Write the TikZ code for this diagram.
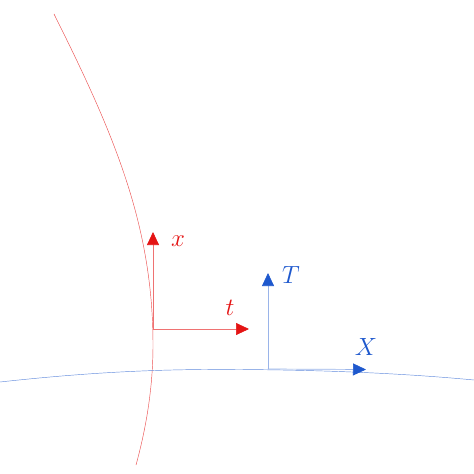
\documentclass[tikz,border=0pt]{standalone}
\usepackage{tikz}
\usetikzlibrary{arrows.meta,positioning}

\definecolor{framered}{RGB}{228,20,20}
\definecolor{frameblue}{RGB}{30,88,205}

\begin{document}
\begin{tikzpicture}[x=1pt,y=-1pt,
                    line cap=round]
    \tikzstyle{worldline}=[line width=0.45pt]
    \tikzstyle{axis}=[line width=0.7pt]
    \tikzstyle{lbl}=[inner sep=0pt,font=\fontsize{27}{30}\selectfont]

    \useasboundingbox (0,0) rectangle (474,474);

    % curves
    \draw[worldline,framered!75] (54,14) .. controls (114,134) and (153,225) .. (153,345)
                                        .. controls (153,385) and (147,425) .. (136,465);
    \draw[worldline,frameblue!70] (0,382) .. controls (100,371) and (170,369) .. (240,369.5)
                                         .. controls (320,370) and (400,373) .. (474,380);

    % red frame
    \coordinate (o1) at (153,329);
    \coordinate (x1) at (153,232);
    \coordinate (t1) at (249,329);
    \draw[axis,framered!60,-{Triangle[length=13pt,width=12pt,color=framered]}] (o1) -- (x1);
    \draw[axis,framered!60,-{Triangle[length=13pt,width=12pt,color=framered]}] (o1) -- (t1);
    \node[lbl,text=framered] (xlabel) at (178,241) {$x$};
    \node[lbl,text=framered] (tlabel) at (230,308) {$t$};

    % blue frame
    \coordinate (o2) at (268,369);
    \coordinate (T2) at (268,273);
    \coordinate (X2) at (366,369.5);
    \draw[axis,frameblue!45,-{Triangle[length=13pt,width=12pt,color=frameblue]}] (o2) -- (T2);
    \draw[axis,frameblue!45,-{Triangle[length=13pt,width=12pt,color=frameblue]}] (o2) -- (X2);
    \node[lbl,text=frameblue] (Tlabel) at (291,275) {$T$};
    \node[lbl,text=frameblue] (Xlabel) at (366,347) {$X$};
\end{tikzpicture}
\end{document}
